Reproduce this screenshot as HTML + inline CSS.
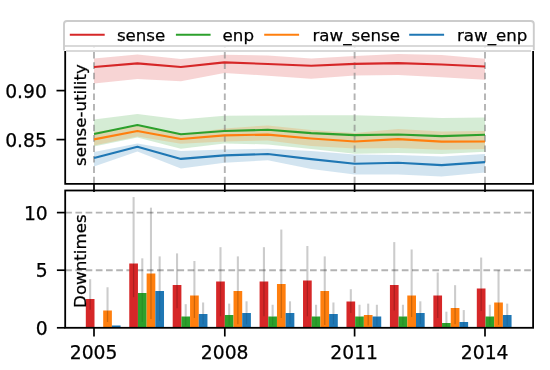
<!DOCTYPE html>
<html><head><meta charset="utf-8"><title>chart</title>
<style>html,body{margin:0;padding:0;background:#fff;overflow:hidden}svg{display:block}text{font-family:"DejaVu Sans","Liberation Sans",sans-serif;fill:#000;stroke:#000;stroke-width:0.25px}</style></head><body>
<svg width="550" height="370" viewBox="0 0 550 370">
<rect width="550" height="370" fill="#fff"/>
<g>
<polygon points="94.0,58.4 137.4,54.4 180.9,59.0 224.3,54.8 267.8,55.4 311.2,58.5 354.7,55.9 398.1,54.1 441.6,55.1 485.0,58.7 485.0,79.7 441.6,77.3 398.1,75.1 354.7,75.6 311.2,78.7 267.8,75.7 224.3,73.0 180.9,81.2 137.4,79.0 94.0,83.4" fill="#d62728" fill-opacity="0.2"/>
<polygon points="94.0,119.6 137.4,113.9 180.9,119.6 224.3,115.8 267.8,115.4 311.2,115.3 354.7,115.3 398.1,116.4 441.6,117.9 485.0,117.6 485.0,151.7 441.6,154.1 398.1,153.1 354.7,153.7 311.2,149.1 267.8,144.4 224.3,143.4 180.9,148.8 137.4,137.4 94.0,146.4" fill="#2ca02c" fill-opacity="0.2"/>
<polygon points="94.0,132.0 137.4,126.0 180.9,134.2 224.3,128.4 267.8,125.4 311.2,130.1 354.7,133.1 398.1,129.1 441.6,131.6 485.0,131.1 485.0,149.1 441.6,149.7 398.1,148.1 354.7,148.5 311.2,146.1 267.8,140.6 224.3,141.4 180.9,143.7 137.4,136.4 94.0,145.4" fill="#ff7f0e" fill-opacity="0.2"/>
<polygon points="94.0,152.0 137.4,143.4 180.9,150.9 224.3,149.4 267.8,148.8 311.2,151.1 354.7,154.5 398.1,155.1 441.6,156.5 485.0,154.1 485.0,172.5 441.6,176.5 398.1,174.5 354.7,174.5 311.2,169.1 267.8,160.2 224.3,162.8 180.9,168.6 137.4,151.4 94.0,166.4" fill="#1f77b4" fill-opacity="0.2"/>
<line x1="94.0" y1="183.8" x2="94.0" y2="46.5" stroke="#808080" stroke-opacity="0.6" stroke-width="1.9" stroke-dasharray="6.6 3.8" stroke-dashoffset="-0.5"/>
<line x1="224.8" y1="183.8" x2="224.8" y2="46.5" stroke="#808080" stroke-opacity="0.6" stroke-width="1.9" stroke-dasharray="6.6 3.8" stroke-dashoffset="-0.5"/>
<line x1="354.6" y1="183.8" x2="354.6" y2="46.5" stroke="#808080" stroke-opacity="0.6" stroke-width="1.9" stroke-dasharray="6.6 3.8" stroke-dashoffset="-0.5"/>
<line x1="485.0" y1="183.8" x2="485.0" y2="46.5" stroke="#808080" stroke-opacity="0.6" stroke-width="1.9" stroke-dasharray="6.6 3.8" stroke-dashoffset="-0.5"/>
<polyline points="94.0,67.0 137.4,63.4 180.9,67.0 224.3,62.4 267.8,64.0 311.2,65.7 354.7,63.9 398.1,63.1 441.6,64.5 485.0,66.5" fill="none" stroke="#d62728" stroke-width="2.1" stroke-linejoin="round"/>
<polyline points="94.0,134.0 137.4,125.0 180.9,134.2 224.3,131.0 267.8,129.8 311.2,133.1 354.7,135.1 398.1,134.5 441.6,136.1 485.0,134.7" fill="none" stroke="#2ca02c" stroke-width="2.1" stroke-linejoin="round"/>
<polyline points="94.0,139.4 137.4,131.0 180.9,139.0 224.3,135.4 267.8,134.6 311.2,138.5 354.7,141.5 398.1,139.1 441.6,141.6 485.0,141.5" fill="none" stroke="#ff7f0e" stroke-width="2.1" stroke-linejoin="round"/>
<polyline points="94.0,158.0 137.4,146.8 180.9,158.9 224.3,155.4 267.8,154.0 311.2,159.1 354.7,163.7 398.1,162.7 441.6,165.1 485.0,162.1" fill="none" stroke="#1f77b4" stroke-width="2.1" stroke-linejoin="round"/>
</g>
<g>
<line x1="65.2" y1="270.2" x2="533.1" y2="270.2" stroke="#808080" stroke-opacity="0.6" stroke-width="1.9" stroke-dasharray="6.7 3.5"/>
<line x1="65.2" y1="212.6" x2="533.1" y2="212.6" stroke="#808080" stroke-opacity="0.6" stroke-width="1.9" stroke-dasharray="6.7 3.5"/>
<rect x="85.81" y="299.0" width="8.69" height="28.80" fill="#d62728"/>
<rect x="103.19" y="310.5" width="8.69" height="17.30" fill="#ff7f0e"/>
<rect x="111.88" y="325.5" width="8.69" height="2.30" fill="#1f77b4"/>
<rect x="129.26" y="263.5" width="8.68" height="64.30" fill="#d62728"/>
<rect x="137.94" y="293.0" width="8.69" height="34.80" fill="#2ca02c"/>
<rect x="146.63" y="273.5" width="8.69" height="54.30" fill="#ff7f0e"/>
<rect x="155.32" y="291.0" width="8.69" height="36.80" fill="#1f77b4"/>
<rect x="172.7" y="285.0" width="8.69" height="42.80" fill="#d62728"/>
<rect x="181.39" y="316.5" width="8.69" height="11.30" fill="#2ca02c"/>
<rect x="190.08" y="295.5" width="8.69" height="32.30" fill="#ff7f0e"/>
<rect x="198.77" y="314.0" width="8.68" height="13.80" fill="#1f77b4"/>
<rect x="216.14" y="281.5" width="8.69" height="46.30" fill="#d62728"/>
<rect x="224.83" y="315.0" width="8.69" height="12.80" fill="#2ca02c"/>
<rect x="233.52" y="291.0" width="8.69" height="36.80" fill="#ff7f0e"/>
<rect x="242.21" y="313.0" width="8.69" height="14.80" fill="#1f77b4"/>
<rect x="259.59" y="281.5" width="8.69" height="46.30" fill="#d62728"/>
<rect x="268.28" y="316.5" width="8.68" height="11.30" fill="#2ca02c"/>
<rect x="276.96" y="284.0" width="8.69" height="43.80" fill="#ff7f0e"/>
<rect x="285.65" y="313.0" width="8.69" height="14.80" fill="#1f77b4"/>
<rect x="303.03" y="280.5" width="8.69" height="47.30" fill="#d62728"/>
<rect x="311.72" y="316.5" width="8.69" height="11.30" fill="#2ca02c"/>
<rect x="320.41" y="291.0" width="8.69" height="36.80" fill="#ff7f0e"/>
<rect x="329.1" y="314.0" width="8.69" height="13.80" fill="#1f77b4"/>
<rect x="346.48" y="301.5" width="8.68" height="26.30" fill="#d62728"/>
<rect x="355.16" y="316.5" width="8.69" height="11.30" fill="#2ca02c"/>
<rect x="363.85" y="315.0" width="8.69" height="12.80" fill="#ff7f0e"/>
<rect x="372.54" y="316.5" width="8.69" height="11.30" fill="#1f77b4"/>
<rect x="389.92" y="285.0" width="8.69" height="42.80" fill="#d62728"/>
<rect x="398.61" y="316.5" width="8.69" height="11.30" fill="#2ca02c"/>
<rect x="407.3" y="295.5" width="8.69" height="32.30" fill="#ff7f0e"/>
<rect x="415.99" y="313.0" width="8.68" height="14.80" fill="#1f77b4"/>
<rect x="433.36" y="295.5" width="8.69" height="32.30" fill="#d62728"/>
<rect x="442.05" y="323.0" width="8.69" height="4.80" fill="#2ca02c"/>
<rect x="450.74" y="308.0" width="8.69" height="19.80" fill="#ff7f0e"/>
<rect x="459.43" y="322.0" width="8.69" height="5.80" fill="#1f77b4"/>
<rect x="476.81" y="288.5" width="8.69" height="39.30" fill="#d62728"/>
<rect x="485.5" y="316.5" width="8.68" height="11.30" fill="#2ca02c"/>
<rect x="494.18" y="302.5" width="8.69" height="25.30" fill="#ff7f0e"/>
<rect x="502.87" y="315.0" width="8.69" height="12.80" fill="#1f77b4"/>
<line x1="90.16" y1="279.19" x2="90.16" y2="299.00" stroke="#000" stroke-opacity="0.2" stroke-width="2.1"/>
<line x1="90.16" y1="299.00" x2="90.16" y2="309.83" stroke="#000" stroke-opacity="0.2" stroke-width="1.3"/>
<line x1="107.53" y1="287.25" x2="107.53" y2="310.52" stroke="#000" stroke-opacity="0.2" stroke-width="2.1"/>
<line x1="107.53" y1="310.52" x2="107.53" y2="322.04" stroke="#000" stroke-opacity="0.2" stroke-width="1.3"/>
<line x1="133.60" y1="197.05" x2="133.60" y2="263.29" stroke="#000" stroke-opacity="0.2" stroke-width="2.1"/>
<line x1="133.60" y1="263.29" x2="133.60" y2="297.16" stroke="#000" stroke-opacity="0.2" stroke-width="1.3"/>
<line x1="142.29" y1="258.33" x2="142.29" y2="293.24" stroke="#000" stroke-opacity="0.2" stroke-width="2.1"/>
<line x1="142.29" y1="293.24" x2="142.29" y2="322.04" stroke="#000" stroke-opacity="0.1" stroke-width="1.3"/>
<line x1="150.98" y1="207.65" x2="150.98" y2="273.66" stroke="#000" stroke-opacity="0.2" stroke-width="2.1"/>
<line x1="150.98" y1="273.66" x2="150.98" y2="319.04" stroke="#000" stroke-opacity="0.2" stroke-width="1.3"/>
<line x1="159.67" y1="256.38" x2="159.67" y2="290.94" stroke="#000" stroke-opacity="0.2" stroke-width="2.1"/>
<line x1="159.67" y1="290.94" x2="159.67" y2="320.89" stroke="#000" stroke-opacity="0.1" stroke-width="1.3"/>
<line x1="177.04" y1="253.38" x2="177.04" y2="285.18" stroke="#000" stroke-opacity="0.2" stroke-width="2.1"/>
<line x1="177.04" y1="285.18" x2="177.04" y2="308.22" stroke="#000" stroke-opacity="0.2" stroke-width="1.3"/>
<line x1="185.73" y1="304.18" x2="185.73" y2="316.28" stroke="#000" stroke-opacity="0.2" stroke-width="2.1"/>
<line x1="185.73" y1="316.28" x2="185.73" y2="325.50" stroke="#000" stroke-opacity="0.1" stroke-width="1.3"/>
<line x1="194.42" y1="260.98" x2="194.42" y2="295.54" stroke="#000" stroke-opacity="0.2" stroke-width="2.1"/>
<line x1="194.42" y1="295.54" x2="194.42" y2="318.01" stroke="#000" stroke-opacity="0.2" stroke-width="1.3"/>
<line x1="203.11" y1="302.46" x2="203.11" y2="313.98" stroke="#000" stroke-opacity="0.2" stroke-width="2.1"/>
<line x1="203.11" y1="313.98" x2="203.11" y2="324.34" stroke="#000" stroke-opacity="0.1" stroke-width="1.3"/>
<line x1="220.49" y1="247.16" x2="220.49" y2="281.72" stroke="#000" stroke-opacity="0.2" stroke-width="2.1"/>
<line x1="220.49" y1="281.72" x2="220.49" y2="316.28" stroke="#000" stroke-opacity="0.2" stroke-width="1.3"/>
<line x1="229.18" y1="303.61" x2="229.18" y2="315.13" stroke="#000" stroke-opacity="0.2" stroke-width="2.1"/>
<line x1="229.18" y1="315.13" x2="229.18" y2="325.50" stroke="#000" stroke-opacity="0.1" stroke-width="1.3"/>
<line x1="237.87" y1="256.38" x2="237.87" y2="290.94" stroke="#000" stroke-opacity="0.2" stroke-width="2.1"/>
<line x1="237.87" y1="290.94" x2="237.87" y2="324.34" stroke="#000" stroke-opacity="0.2" stroke-width="1.3"/>
<line x1="246.55" y1="301.30" x2="246.55" y2="312.82" stroke="#000" stroke-opacity="0.2" stroke-width="2.1"/>
<line x1="246.55" y1="312.82" x2="246.55" y2="324.34" stroke="#000" stroke-opacity="0.1" stroke-width="1.3"/>
<line x1="263.93" y1="247.16" x2="263.93" y2="281.72" stroke="#000" stroke-opacity="0.2" stroke-width="2.1"/>
<line x1="263.93" y1="281.72" x2="263.93" y2="316.28" stroke="#000" stroke-opacity="0.2" stroke-width="1.3"/>
<line x1="272.62" y1="304.76" x2="272.62" y2="316.28" stroke="#000" stroke-opacity="0.2" stroke-width="2.1"/>
<line x1="272.62" y1="316.28" x2="272.62" y2="325.50" stroke="#000" stroke-opacity="0.1" stroke-width="1.3"/>
<line x1="281.31" y1="229.53" x2="281.31" y2="284.02" stroke="#000" stroke-opacity="0.2" stroke-width="2.1"/>
<line x1="281.31" y1="284.02" x2="281.31" y2="318.01" stroke="#000" stroke-opacity="0.2" stroke-width="1.3"/>
<line x1="290.00" y1="301.30" x2="290.00" y2="312.82" stroke="#000" stroke-opacity="0.2" stroke-width="2.1"/>
<line x1="290.00" y1="312.82" x2="290.00" y2="324.34" stroke="#000" stroke-opacity="0.1" stroke-width="1.3"/>
<line x1="307.38" y1="246.01" x2="307.38" y2="280.57" stroke="#000" stroke-opacity="0.2" stroke-width="2.1"/>
<line x1="307.38" y1="280.57" x2="307.38" y2="316.28" stroke="#000" stroke-opacity="0.2" stroke-width="1.3"/>
<line x1="316.06" y1="304.76" x2="316.06" y2="316.28" stroke="#000" stroke-opacity="0.2" stroke-width="2.1"/>
<line x1="316.06" y1="316.28" x2="316.06" y2="325.50" stroke="#000" stroke-opacity="0.1" stroke-width="1.3"/>
<line x1="324.75" y1="256.38" x2="324.75" y2="290.94" stroke="#000" stroke-opacity="0.2" stroke-width="2.1"/>
<line x1="324.75" y1="290.94" x2="324.75" y2="324.92" stroke="#000" stroke-opacity="0.2" stroke-width="1.3"/>
<line x1="333.44" y1="302.46" x2="333.44" y2="313.98" stroke="#000" stroke-opacity="0.2" stroke-width="2.1"/>
<line x1="333.44" y1="313.98" x2="333.44" y2="324.34" stroke="#000" stroke-opacity="0.1" stroke-width="1.3"/>
<line x1="350.82" y1="289.21" x2="350.82" y2="301.30" stroke="#000" stroke-opacity="0.2" stroke-width="2.1"/>
<line x1="350.82" y1="301.30" x2="350.82" y2="313.05" stroke="#000" stroke-opacity="0.2" stroke-width="1.3"/>
<line x1="359.51" y1="304.76" x2="359.51" y2="316.28" stroke="#000" stroke-opacity="0.2" stroke-width="2.1"/>
<line x1="359.51" y1="316.28" x2="359.51" y2="325.50" stroke="#000" stroke-opacity="0.1" stroke-width="1.3"/>
<line x1="368.20" y1="303.61" x2="368.20" y2="315.13" stroke="#000" stroke-opacity="0.2" stroke-width="2.1"/>
<line x1="368.20" y1="315.13" x2="368.20" y2="325.50" stroke="#000" stroke-opacity="0.2" stroke-width="1.3"/>
<line x1="376.89" y1="304.76" x2="376.89" y2="316.28" stroke="#000" stroke-opacity="0.2" stroke-width="2.1"/>
<line x1="376.89" y1="316.28" x2="376.89" y2="325.50" stroke="#000" stroke-opacity="0.1" stroke-width="1.3"/>
<line x1="394.26" y1="242.09" x2="394.26" y2="285.18" stroke="#000" stroke-opacity="0.2" stroke-width="2.1"/>
<line x1="394.26" y1="285.18" x2="394.26" y2="310.52" stroke="#000" stroke-opacity="0.2" stroke-width="1.3"/>
<line x1="402.95" y1="304.76" x2="402.95" y2="316.28" stroke="#000" stroke-opacity="0.2" stroke-width="2.1"/>
<line x1="402.95" y1="316.28" x2="402.95" y2="325.50" stroke="#000" stroke-opacity="0.1" stroke-width="1.3"/>
<line x1="411.64" y1="249.46" x2="411.64" y2="295.54" stroke="#000" stroke-opacity="0.2" stroke-width="2.1"/>
<line x1="411.64" y1="295.54" x2="411.64" y2="317.09" stroke="#000" stroke-opacity="0.2" stroke-width="1.3"/>
<line x1="420.33" y1="301.30" x2="420.33" y2="312.82" stroke="#000" stroke-opacity="0.2" stroke-width="2.1"/>
<line x1="420.33" y1="312.82" x2="420.33" y2="324.34" stroke="#000" stroke-opacity="0.1" stroke-width="1.3"/>
<line x1="437.71" y1="272.50" x2="437.71" y2="295.54" stroke="#000" stroke-opacity="0.2" stroke-width="2.1"/>
<line x1="437.71" y1="295.54" x2="437.71" y2="318.01" stroke="#000" stroke-opacity="0.2" stroke-width="1.3"/>
<line x1="446.40" y1="311.67" x2="446.40" y2="323.19" stroke="#000" stroke-opacity="0.2" stroke-width="2.1"/>
<line x1="446.40" y1="323.19" x2="446.40" y2="326.65" stroke="#000" stroke-opacity="0.1" stroke-width="1.3"/>
<line x1="455.09" y1="285.18" x2="455.09" y2="308.22" stroke="#000" stroke-opacity="0.2" stroke-width="2.1"/>
<line x1="455.09" y1="308.22" x2="455.09" y2="324.34" stroke="#000" stroke-opacity="0.2" stroke-width="1.3"/>
<line x1="463.77" y1="310.06" x2="463.77" y2="322.04" stroke="#000" stroke-opacity="0.2" stroke-width="2.1"/>
<line x1="463.77" y1="322.04" x2="463.77" y2="326.65" stroke="#000" stroke-opacity="0.1" stroke-width="1.3"/>
<line x1="481.15" y1="257.53" x2="481.15" y2="288.63" stroke="#000" stroke-opacity="0.2" stroke-width="2.1"/>
<line x1="481.15" y1="288.63" x2="481.15" y2="311.10" stroke="#000" stroke-opacity="0.2" stroke-width="1.3"/>
<line x1="489.84" y1="304.76" x2="489.84" y2="316.28" stroke="#000" stroke-opacity="0.2" stroke-width="2.1"/>
<line x1="489.84" y1="316.28" x2="489.84" y2="325.50" stroke="#000" stroke-opacity="0.1" stroke-width="1.3"/>
<line x1="498.53" y1="270.20" x2="498.53" y2="302.46" stroke="#000" stroke-opacity="0.2" stroke-width="2.1"/>
<line x1="498.53" y1="302.46" x2="498.53" y2="324.92" stroke="#000" stroke-opacity="0.2" stroke-width="1.3"/>
<line x1="507.22" y1="303.61" x2="507.22" y2="315.13" stroke="#000" stroke-opacity="0.2" stroke-width="2.1"/>
<line x1="507.22" y1="315.13" x2="507.22" y2="325.50" stroke="#000" stroke-opacity="0.1" stroke-width="1.3"/>
</g>
<rect x="65.2" y="190.5" width="467.90000000000003" height="137.3" fill="none" stroke="#000" stroke-width="1.8"/>
<path d="M65.2,50.9 V183.8 H533.1 V50.9" fill="none" stroke="#000" stroke-width="1.8" stroke-linejoin="miter"/>
<line x1="56.5" y1="90.6" x2="65.2" y2="90.6" stroke="#000" stroke-width="1.7"/>
<line x1="56.5" y1="139.6" x2="65.2" y2="139.6" stroke="#000" stroke-width="1.7"/>
<line x1="56.9" y1="327.8" x2="65.2" y2="327.8" stroke="#000" stroke-width="1.7"/>
<line x1="56.9" y1="270.2" x2="65.2" y2="270.2" stroke="#000" stroke-width="1.7"/>
<line x1="56.9" y1="212.6" x2="65.2" y2="212.6" stroke="#000" stroke-width="1.7"/>
<line x1="94.0" y1="183.8" x2="94.0" y2="192.0" stroke="#000" stroke-width="1.7"/>
<line x1="94.0" y1="327.8" x2="94.0" y2="336.5" stroke="#000" stroke-width="1.7"/>
<line x1="224.8" y1="183.8" x2="224.8" y2="192.0" stroke="#000" stroke-width="1.7"/>
<line x1="224.8" y1="327.8" x2="224.8" y2="336.5" stroke="#000" stroke-width="1.7"/>
<line x1="354.6" y1="183.8" x2="354.6" y2="192.0" stroke="#000" stroke-width="1.7"/>
<line x1="354.6" y1="327.8" x2="354.6" y2="336.5" stroke="#000" stroke-width="1.7"/>
<line x1="485.0" y1="183.8" x2="485.0" y2="192.0" stroke="#000" stroke-width="1.7"/>
<line x1="485.0" y1="327.8" x2="485.0" y2="336.5" stroke="#000" stroke-width="1.7"/>
<g font-size="18.75">
<text x="46.9" y="97.7" text-anchor="end">0.90</text>
<text x="46.9" y="146.7" text-anchor="end">0.85</text>
<text x="47.8" y="335.0" text-anchor="end">0</text>
<text x="47.8" y="277.4" text-anchor="end">5</text>
<text x="47.8" y="219.8" text-anchor="end">10</text>
<text x="93.6" y="358.8" text-anchor="middle">2005</text>
<text x="224.65" y="358.8" text-anchor="middle">2008</text>
<text x="354.2" y="358.8" text-anchor="middle">2011</text>
<text x="484.7" y="358.8" text-anchor="middle">2014</text>
</g>
<text font-size="16.67" text-anchor="middle" transform="translate(86.2,115.0) rotate(-90)">sense-utility</text>
<text font-size="16.67" text-anchor="middle" transform="translate(86.4,261.2) rotate(-90)">Downtimes</text>
<g>
<rect x="64" y="21" width="469.8" height="30" rx="3.5" fill="#fff" fill-opacity="0.8" stroke="none"/>
<line x1="66" y1="50.9" x2="531" y2="50.9" stroke="#ccc" stroke-width="1.5"/>
<path d="M64,50.5 V24 Q64,21 67,21 H530.8 Q533.8,21 533.8,24 V50.3" fill="none" stroke="#ccc" stroke-width="1.9"/>
<line x1="64" y1="46.1" x2="533.8" y2="46.1" stroke="#ccc" stroke-width="1.5"/>
<line x1="69.8" y1="34.8" x2="104.7" y2="34.8" stroke="#d62728" stroke-width="2.1"/>
<line x1="175.9" y1="34.8" x2="210.6" y2="34.8" stroke="#2ca02c" stroke-width="2.1"/>
<line x1="264.2" y1="34.8" x2="299.1" y2="34.8" stroke="#ff7f0e" stroke-width="2.1"/>
<line x1="409.2" y1="34.8" x2="444.1" y2="34.8" stroke="#1f77b4" stroke-width="2.1"/>
<g font-size="16.67">
<text x="116.9" y="40.5">sense</text>
<text x="222.6" y="40.5">enp</text>
<text x="312.5" y="40.5">raw_sense</text>
<text x="457.0" y="40.5">raw_enp</text>
</g></g>
</svg></body></html>
